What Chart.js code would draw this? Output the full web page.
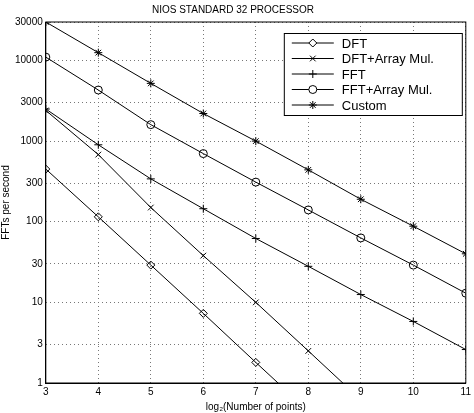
<!DOCTYPE html>
<html>
<head>
<meta charset="utf-8">
<script src="https://cdn.jsdelivr.net/npm/chart.js@4"></script>
<style>
  body { margin: 0; background: #fff; }
  #wrap { width: 474px; height: 413px; }
</style>
</head>
<body>
<div id="wrap"><canvas id="c"></canvas></div>
<script>
// log2(number of points)
const xs = [3, 4, 5, 6, 7, 8, 9, 10, 11];
const yTicks = [1, 3, 10, 30, 100, 300, 1000, 3000, 10000, 30000];

const dft      = [450, 115, 29, 7.3, 1.8, 0.45];
const dftArr   = [2400, 680, 150, 38, 10, 2.5, 0.62];
const fft      = [2500, 900, 340, 145, 62, 28, 12.5, 5.8, 2.6];
const fftArr   = [11000, 4300, 1600, 700, 310, 140, 63, 29, 13];
const custom   = [30000, 12500, 5200, 2200, 1000, 440, 190, 88, 40];

const seriesNames = ['DFT', 'DFT+Array Mul.', 'FFT', 'FFT+Array Mul.', 'Custom'];
const markers = ['rectRot', 'crossRot', 'cross', 'circle', 'star'];
const allSeries = [dft, dftArr, fft, fftArr, custom];

const pts = vals => vals.map((v, i) => ({ x: xs[i], y: v }));

const datasets = allSeries.map((vals, i) => ({
  label: seriesNames[i],
  data: pts(vals),
  borderColor: '#000',
  backgroundColor: 'rgba(0,0,0,0)',
  borderWidth: 1,
  pointStyle: markers[i],
  pointRadius: 4,
  pointBorderWidth: 1,
  pointBorderColor: '#000',
  pointBackgroundColor: 'rgba(0,0,0,0)'
}));

const legendBox = {
  id: 'legendBox',
  afterDraw(chart) {
    const { ctx, chartArea } = chart;
    const w = 178, h = 82;
    const x0 = chartArea.right - w - 4, y0 = chartArea.top + 11;
    ctx.save();
    ctx.fillStyle = '#fff';
    ctx.fillRect(x0, y0, w, h);
    ctx.strokeStyle = '#000';
    ctx.lineWidth = 1;
    ctx.strokeRect(x0 + 0.5, y0 + 0.5, w, h);
    ctx.font = '13px "Liberation Sans", Arial, sans-serif';
    ctx.textBaseline = 'middle';
    seriesNames.forEach((name, i) => {
      const y = y0 + 10 + i * 15.5;
      ctx.beginPath();
      ctx.moveTo(x0 + 8, y);
      ctx.lineTo(x0 + 50, y);
      ctx.stroke();
      ctx.fillStyle = '#fff';
      Chart.helpers.drawPoint(ctx, { pointStyle: markers[i], radius: 4, rotation: 0, borderWidth: 1 }, x0 + 29, y);
      ctx.fillStyle = '#000';
      ctx.fillText(name, x0 + 58, y + 1);
    });
    ctx.restore();
  }
};

new Chart(document.getElementById('c'), {
  type: 'line',
  data: { datasets },
  options: {
    responsive: true,
    maintainAspectRatio: false,
    animation: false,
    layout: { padding: { top: 2, right: 8, left: 0, bottom: 0 } },
    plugins: {
      legend: { display: false },
      tooltip: { enabled: false },
      title: {
        display: true,
        text: 'NIOS STANDARD 32 PROCESSOR',
        color: '#000',
        font: { size: 10, weight: 'normal', family: 'Liberation Sans' },
        padding: { top: 2, bottom: 6 }
      }
    },
    scales: {
      x: {
        type: 'linear',
        min: 3, max: 11,
        ticks: { stepSize: 1, color: '#000', font: { size: 10, family: 'Liberation Sans' } },
        grid: { color: '#777', drawTicks: false },
        border: { color: '#000', dash: [1, 3] },
        title: { display: true, text: 'log\u2082(Number of points)', color: '#000', font: { size: 10, family: 'Liberation Sans' }, padding: 0 }
      },
      y: {
        type: 'logarithmic',
        min: 1, max: 30000,
        afterBuildTicks: axis => { axis.ticks = yTicks.map(v => ({ value: v })); },
        ticks: { color: '#000', font: { size: 10, family: 'Liberation Sans' }, callback: v => String(v) },
        grid: { color: '#777', drawTicks: false },
        border: { color: '#000', dash: [1, 3] },
        title: { display: true, text: 'FFTs per second', color: '#000', font: { size: 10, family: 'Liberation Sans' }, padding: 0 }
      }
    }
  },
  plugins: [legendBox, {
    id: 'frame',
    beforeDatasetsDraw(chart) {
      const { ctx, chartArea: a } = chart;
      ctx.save();
      ctx.strokeStyle = '#000';
      ctx.lineWidth = 1;
      ctx.setLineDash([]);
      ctx.strokeRect(a.left, a.top, a.right - a.left, a.bottom - a.top);
      ctx.restore();
    }
  }]
});
</script>
</body>
</html>
